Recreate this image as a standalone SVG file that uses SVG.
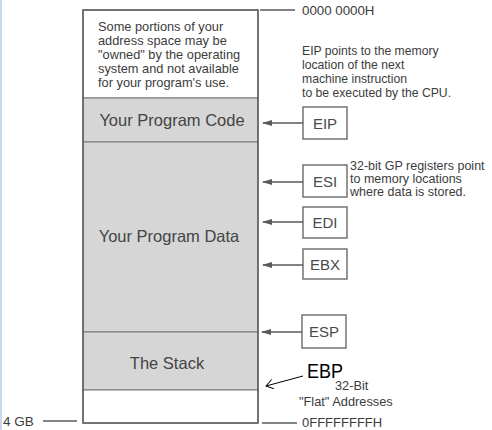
<svg xmlns="http://www.w3.org/2000/svg" width="492" height="430" viewBox="0 0 492 430">
<defs>
<style>
.t{font-family:"Liberation Sans",Arial,sans-serif;fill:#3c3c3c}
.s{font-size:12.8px}
.e{font-size:12.2px}
.big{font-size:16.5px;text-anchor:middle;fill:#444}
.reg{font-size:15px;text-anchor:middle;fill:#4a4a4a}
.box{fill:#fff;stroke:#6a6a6a;stroke-width:1.4}
.sec{stroke:#777;stroke-width:1}
.ln{stroke:#5a5a5a;stroke-width:1.3;fill:none}
.ar{stroke:#5a5a5a;stroke-width:1.6;fill:none}
</style>
<marker id="ah" viewBox="0 0 10 6" refX="9" refY="3" markerWidth="10" markerHeight="6" markerUnits="userSpaceOnUse" orient="auto">
<path d="M10,3 L0,0 L0,6 Z" fill="#5a5a5a"/>
</marker>
<marker id="open" viewBox="0 0 10 12" refX="9" refY="6" markerWidth="8" markerHeight="10" markerUnits="userSpaceOnUse" orient="auto">
<path d="M0,0 L9,6 L0,12" fill="none" stroke="#000" stroke-width="1.2"/>
</marker>
</defs>
<rect x="0" y="0" width="492" height="430" fill="#fff"/>
<rect x="0" y="0" width="2" height="430" fill="#c9d8ec"/>
<g id="memory">
<rect x="83" y="10" width="175" height="88" fill="#fff" class="sec"/>
<rect x="83" y="98" width="175" height="44" fill="#d6d6d6" class="sec"/>
<rect x="83" y="142" width="175" height="190" fill="#d6d6d6" class="sec"/>
<rect x="83" y="332" width="175" height="58" fill="#d6d6d6" class="sec"/>
<rect x="83" y="390" width="175" height="33" fill="#fff" class="sec"/>
<rect x="83" y="10" width="175" height="413" fill="none" stroke="#555" stroke-width="1.4"/>
<text class="t s" x="98" y="31">Some portions of your</text>
<text class="t s" x="98" y="45">address space may be</text>
<text class="t s" x="98" y="59">"owned" by the operating</text>
<text class="t s" x="98" y="73">system and not available</text>
<text class="t s" x="98" y="87">for your program's use.</text>
<text class="t big" x="172" y="126">Your Program Code</text>
<text class="t big" x="169" y="242">Your Program Data</text>
<text class="t big" x="167" y="369">The Stack</text>
</g>
<g id="eip"><rect class="box" x="303" y="107" width="44" height="32"/><text class="t reg" x="325" y="129">EIP</text></g>
<g id="esi"><rect class="box" x="303" y="165" width="44" height="32"/><text class="t reg" x="325" y="187">ESI</text></g>
<g id="edi"><rect class="box" x="303" y="207" width="44" height="31"/><text class="t reg" x="325" y="228">EDI</text></g>
<g id="ebx"><rect class="box" x="303" y="249" width="44" height="30"/><text class="t reg" x="325" y="270">EBX</text></g>
<g id="esp"><rect class="box" x="302" y="315" width="44" height="33"/><text class="t reg" x="324" y="337">ESP</text></g>
<g id="ebp"><text x="307" y="378" font-family="'Liberation Sans',Arial,sans-serif" font-size="21" fill="#000" textLength="36" lengthAdjust="spacingAndGlyphs">EBP</text></g>
<g id="labels">
<text class="t" x="302" y="15" font-size="13.3">0000 0000H</text>
<text class="t e" x="302" y="55">EIP points to the memory</text>
<text class="t e" x="302" y="69">location of the next</text>
<text class="t e" x="302" y="83">machine instruction</text>
<text class="t e" x="302" y="97">to be executed by the CPU.</text>
<text class="t" x="350" y="170" font-size="12.5">32-bit GP registers point</text>
<text class="t" x="350" y="183" font-size="12.5">to memory locations</text>
<text class="t" x="350" y="196" font-size="12.5">where data is stored.</text>
<text class="t" x="335" y="390" font-size="12.8">32-Bit</text>
<text class="t" x="299" y="406" font-size="12.8">"Flat" Addresses</text>
<text class="t" x="302" y="427" font-size="13">0FFFFFFFFH</text>
<text class="t" x="3" y="426" font-size="13.5">4 GB</text>
</g>
<g id="connectors">
<line class="ln" x1="260" y1="10" x2="295" y2="10"/>
<line class="ln" x1="262" y1="423" x2="297" y2="423"/>
<line class="ln" x1="43" y1="421" x2="77" y2="421"/>
<line class="ar" x1="303" y1="123" x2="263" y2="123" marker-end="url(#ah)"/>
<line class="ar" x1="303" y1="182" x2="263" y2="182" marker-end="url(#ah)"/>
<line class="ar" x1="303" y1="222" x2="263" y2="222" marker-end="url(#ah)"/>
<line class="ar" x1="303" y1="265" x2="263" y2="265" marker-end="url(#ah)"/>
<line class="ar" x1="302" y1="332" x2="262" y2="332" marker-end="url(#ah)"/>
<line x1="303" y1="376" x2="266" y2="386" stroke="#000" stroke-width="1" marker-end="url(#open)"/>
</g>
</svg>
